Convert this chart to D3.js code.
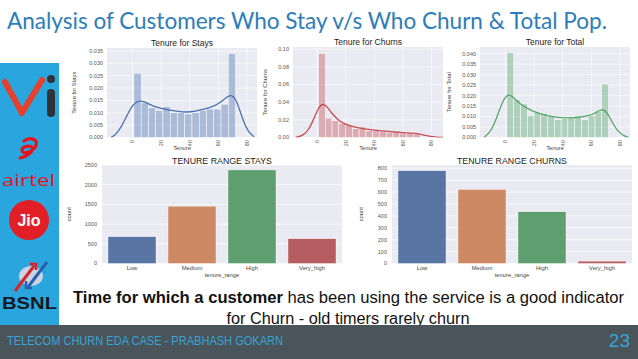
<!DOCTYPE html>
<html>
<head>
<meta charset="utf-8">
<script src="https://cdn.jsdelivr.net/npm/d3@7"></script>
<style>
body { margin: 0; background: #fff; }
svg { display: block; }
</style>
</head>
<body>
<script>
// histogram densities (bins spread over tenure 1..72)
const staysBins = [0.026, 0.014, 0.012, 0.011, 0.0125, 0.010, 0.010, 0.0095, 0.010, 0.011, 0.0115, 0.0115, 0.0135, 0.034];
const churnBins = [0.095, 0.022, 0.019, 0.016, 0.014, 0.010, 0.012, 0.008, 0.008, 0.007, 0.006, 0.006, 0.005, 0.005, 0.004];
const totalBins = [0.0405, 0.018, 0.016, 0.0105, 0.012, 0.0115, 0.010, 0.0085, 0.009, 0.0095, 0.0105, 0.0085, 0.0105, 0.0125, 0.0255];

// kde curves [tenure, density]
const staysKde = [[-15,0],[-12,0.001],[-8,0.004],[-4,0.0088],[0,0.0133],[4,0.015],[8,0.0146],[14,0.0128],[20,0.0117],[26,0.0111],[32,0.0105],[38,0.0102],[44,0.0106],[50,0.0114],[56,0.0124],[62,0.0143],[66,0.0165],[69,0.0173],[72,0.0158],[75,0.011],[78,0.0058],[81,0.0022],[85,0.0003]];
const churnKde = [[-15,0],[-10,0.002],[-6,0.008],[-2,0.022],[1,0.034],[4,0.0388],[7,0.035],[10,0.028],[14,0.021],[18,0.016],[24,0.0125],[30,0.0105],[36,0.009],[42,0.008],[48,0.0072],[54,0.0062],[60,0.0055],[66,0.005],[70,0.0045],[74,0.003],[78,0.0015],[84,0.0003],[88,0]];
const totalKde = [[-15,0],[-10,0.003],[-6,0.0095],[-2,0.0175],[2,0.0212],[6,0.019],[10,0.016],[16,0.0135],[22,0.0118],[28,0.0107],[34,0.0098],[40,0.0094],[46,0.0094],[52,0.0097],[58,0.0104],[62,0.0114],[65,0.0127],[68,0.0136],[71,0.012],[74,0.008],[78,0.0032],[82,0.001],[86,0]];

const histXTicks = [0, 20, 40, 60, 80];

// count plots
const tenureRange = ['Low', 'Medium', 'High', 'Very_high'];
const staysCount = [680, 1455, 2375, 630];
const churnCount = [780, 623, 435, 20];
const staysYTicks = [0, 500, 1000, 1500, 2000, 2500];
const churnYTicks = [0, 100, 200, 300, 400, 500, 600, 700, 800];

const barColors = ['#5875a4', '#cc8963', '#5f9e6e', '#b55d60'];
const bg = '#eaeaf2';
const font = 'Liberation Sans, Arial, sans-serif';

const svg = d3.select('body').append('svg').attr('width', 638).attr('height', 359);
const defs = svg.append('defs');

function hist(o) {
  const x = d3.scaleLinear().domain(o.xd).range([o.x0, o.x1]);
  const y = d3.scaleLinear().domain([0, o.ymax]).range([o.y1, o.y0]);
  const g = svg.append('g');
  defs.append('clipPath').attr('id', o.id).append('rect')
    .attr('x', o.x0).attr('y', o.y0).attr('width', o.x1 - o.x0).attr('height', o.y1 - o.y0);

  g.append('rect').attr('x', o.x0).attr('y', o.y0).attr('width', o.x1 - o.x0).attr('height', o.y1 - o.y0).attr('fill', bg);
  g.selectAll('.gy').data(o.yticks).enter().append('line')
    .attr('x1', o.x0).attr('x2', o.x1).attr('y1', d => y(d)).attr('y2', d => y(d))
    .attr('stroke', '#fff').attr('stroke-width', 0.6);
  g.selectAll('.gx').data(histXTicks).enter().append('line')
    .attr('x1', d => x(d)).attr('x2', d => x(d)).attr('y1', o.y0).attr('y2', o.y1)
    .attr('stroke', '#fff').attr('stroke-width', 0.6);

  const n = o.bins.length, bw = 71 / n;
  g.selectAll('.bar').data(o.bins).enter().append('rect')
    .attr('x', (d, i) => x(1 + i * bw))
    .attr('width', (d, i) => x(1 + (i + 1) * bw) - x(1 + i * bw))
    .attr('y', d => y(d)).attr('height', d => o.y1 - y(d))
    .attr('fill', o.color).attr('fill-opacity', 0.4)
    .attr('stroke', '#fff').attr('stroke-width', 0.5);

  const line = d3.line().x(d => x(d[0])).y(d => y(d[1])).curve(d3.curveBasis);
  g.append('path').datum(o.kde).attr('d', line).attr('fill', 'none')
    .attr('stroke', o.color).attr('stroke-width', 1.3).attr('clip-path', 'url(#' + o.id + ')');

  g.selectAll('.yl').data(o.yticks).enter().append('text')
    .attr('x', o.x0 - 4).attr('y', d => y(d)).attr('dy', '0.35em')
    .attr('text-anchor', 'end').attr('font-size', 5.5).attr('fill', '#555')
    .attr('font-family', font).text(d => d3.format(o.fmt)(d));
  g.selectAll('.xl').data(histXTicks).enter().append('text')
    .attr('transform', d => 'translate(' + x(d) + ',' + (o.y1 + 2.5) + ') rotate(-90)')
    .attr('dy', '0.35em').attr('text-anchor', 'end').attr('font-size', 5.5).attr('fill', '#555')
    .attr('font-family', font).text(d => d);

  g.append('text').attr('x', (o.x0 + o.x1) / 2).attr('y', o.y1 + 12.5).attr('text-anchor', 'middle')
    .attr('font-size', 5.8).attr('fill', '#444').attr('font-family', font).text('Tenure');
  g.append('text').attr('transform', 'translate(' + o.ylx + ',' + ((o.y0 + o.y1) / 2) + ') rotate(-90)')
    .attr('text-anchor', 'middle').attr('font-size', 5.8).attr('fill', '#444').attr('font-family', font).text(o.ylabel);
  g.append('text').attr('x', (o.x0 + o.x1) / 2).attr('y', o.y0 - 2).attr('text-anchor', 'middle')
    .attr('font-size', 8.5).attr('fill', '#222').attr('font-family', font).text(o.title);
}

function countPlot(o) {
  const x = d3.scaleBand().domain(tenureRange).range([o.x0, o.x1]).paddingInner(0.2).paddingOuter(0.1);
  const y = d3.scaleLinear().domain([0, o.ymax]).range([o.y1, o.y0]);
  const g = svg.append('g');
  g.append('rect').attr('x', o.x0).attr('y', o.y0).attr('width', o.x1 - o.x0).attr('height', o.y1 - o.y0).attr('fill', bg);
  g.selectAll('.gy').data(o.yticks).enter().append('line')
    .attr('x1', o.x0).attr('x2', o.x1).attr('y1', d => y(d)).attr('y2', d => y(d))
    .attr('stroke', '#fff').attr('stroke-width', 0.7);
  g.selectAll('.bar').data(o.counts).enter().append('rect')
    .attr('x', (d, i) => x(tenureRange[i])).attr('width', x.bandwidth())
    .attr('y', d => y(d)).attr('height', d => o.y1 - y(d))
    .attr('fill', (d, i) => barColors[i]).attr('stroke', '#fff').attr('stroke-width', 0.4);
  g.selectAll('.yl').data(o.yticks).enter().append('text')
    .attr('x', o.x0 - 5).attr('y', d => y(d)).attr('dy', '0.35em')
    .attr('text-anchor', 'end').attr('font-size', 5.5).attr('fill', '#555').attr('font-family', font).text(d => d);
  g.selectAll('.xl').data(tenureRange).enter().append('text')
    .attr('x', d => x(d) + x.bandwidth() / 2).attr('y', o.y1 + 6.5)
    .attr('text-anchor', 'middle').attr('font-size', 5.8).attr('fill', '#444').attr('font-family', font).text(d => d);
  g.append('text').attr('x', (o.x0 + o.x1) / 2).attr('y', o.y1 + 13.5).attr('text-anchor', 'middle')
    .attr('font-size', 5.8).attr('fill', '#444').attr('font-family', font).text('tenure_range');
  g.append('text').attr('transform', 'translate(' + o.ylx + ',' + ((o.y0 + o.y1) / 2) + ') rotate(-90)')
    .attr('text-anchor', 'middle').attr('font-size', 5.8).attr('fill', '#444').attr('font-family', font).text('count');
  g.append('text').attr('x', (o.x0 + o.x1) / 2).attr('y', o.y0 - 1.5).attr('text-anchor', 'middle')
    .attr('font-size', 8.8).attr('fill', '#222').attr('font-family', font).text(o.title);
}

hist({ id: 'c1', x0: 107, x1: 257, y0: 48, y1: 137.5, xd: [-17.8, 87], ymax: 0.0362, bins: staysBins, kde: staysKde,
  color: '#4c72b0', yticks: d3.range(0, 0.0351, 0.005), fmt: '.3f', ylx: 76, ylabel: 'Tenure for Stays', title: 'Tenure for Stays' });
hist({ id: 'c2', x0: 293, x1: 443, y0: 47, y1: 137.5, xd: [-16.8, 88], ymax: 0.1025, bins: churnBins, kde: churnKde,
  color: '#c44e52', yticks: d3.range(0, 0.101, 0.02), fmt: '.2f', ylx: 267, ylabel: 'Tenure for Churns', title: 'Tenure for Churns' });
hist({ id: 'c3', x0: 480, x1: 630, y0: 47, y1: 137.5, xd: [-17.8, 87], ymax: 0.0432, bins: totalBins, kde: totalKde,
  color: '#55a868', yticks: d3.range(0, 0.0401, 0.005), fmt: '.3f', ylx: 451, ylabel: 'Tenure for Total', title: 'Tenure for Total' });

countPlot({ x0: 102, x1: 342, y0: 165, y1: 263.5, ymax: 2500, counts: staysCount, yticks: staysYTicks, ylx: 71, title: 'TENURE RANGE STAYS' });
countPlot({ x0: 392, x1: 632, y0: 165, y1: 263.5, ymax: 828, counts: churnCount, yticks: churnYTicks, ylx: 363, title: 'TENURE RANGE CHURNS' });

// slide title
svg.append('text').attr('x', 7).attr('y', 29).attr('font-family', 'Lato, sans-serif').attr('font-size', 23.5)
  .attr('fill', '#2c7dbb').attr('textLength', 600).attr('lengthAdjust', 'spacingAndGlyphs')
  .text('Analysis of Customers Who Stay v/s Who Churn & Total Pop.');

// left logo strip
const strip = svg.append('g');
strip.append('rect').attr('x', 0).attr('y', 63).attr('width', 59).attr('height', 262).attr('fill', '#2aa6de');
strip.append('path').attr('d', 'M5,82 L22,113 L42,80').attr('fill', 'none').attr('stroke', '#e5402c')
  .attr('stroke-width', 6).attr('stroke-linejoin', 'round').attr('stroke-linecap', 'round');
strip.append('rect').attr('x', 47).attr('y', 89).attr('width', 8).attr('height', 28).attr('rx', 4).attr('fill', '#2f3237');
strip.append('circle').attr('cx', 51).attr('cy', 79).attr('r', 4).attr('fill', '#2f3237');
strip.append('path').attr('d', 'M24,141 C31,136 40,140 35,147 C31,153 22,155 22,150 C22,146 30,145 33,148 C32,153 26,157 20,158')
  .attr('fill', 'none').attr('stroke', '#e3141d').attr('stroke-width', 3.2).attr('stroke-linecap', 'round');
strip.append('text').attr('x', 2).attr('y', 186).attr('font-family', 'Open Sans, sans-serif').attr('font-size', 17)
  .attr('fill', '#e3141d').attr('textLength', 53).attr('lengthAdjust', 'spacingAndGlyphs').text('airtel');
strip.append('circle').attr('cx', 29).attr('cy', 220).attr('r', 20).attr('fill', '#e21f26');
strip.append('text').attr('x', 29).attr('y', 226).attr('text-anchor', 'middle').attr('font-family', font)
  .attr('font-weight', 'bold').attr('font-size', 16).attr('fill', '#fff').text('Jio');
strip.append('ellipse').attr('cx', 31).attr('cy', 276).attr('rx', 12).attr('ry', 10).attr('fill', '#c9d3e3');
strip.append('path').attr('d', 'M15,291 L34,266').attr('stroke', '#d8232a').attr('stroke-width', 3);
strip.append('path').attr('d', 'M30,264 L36,264 L36,270').attr('fill', 'none').attr('stroke', '#d8232a').attr('stroke-width', 2.5);
strip.append('path').attr('d', 'M47,262 L28,287').attr('stroke', '#2b5fae').attr('stroke-width', 3);
strip.append('path').attr('d', 'M26,281 L26,288 L32,288').attr('fill', 'none').attr('stroke', '#2b5fae').attr('stroke-width', 2.5);
strip.append('text').attr('x', 2).attr('y', 309).attr('font-family', font).attr('font-weight', 'bold')
  .attr('font-size', 17).attr('fill', '#15191e').attr('textLength', 55).attr('lengthAdjust', 'spacingAndGlyphs').text('BSNL');

// note
const note = svg.append('text').attr('x', 73).attr('y', 303).attr('font-family', font).attr('font-size', 16)
  .attr('fill', '#111').attr('textLength', 551).attr('lengthAdjust', 'spacingAndGlyphs');
note.append('tspan').attr('font-weight', 'bold').text('Time for which a customer');
note.append('tspan').text(' has been using the service is a good indicator');
svg.append('text').attr('x', 348).attr('y', 324).attr('text-anchor', 'middle').attr('font-family', font)
  .attr('font-size', 16).attr('fill', '#111').attr('textLength', 243).attr('lengthAdjust', 'spacingAndGlyphs')
  .text('for Churn - old timers rarely churn');

// footer
svg.append('rect').attr('x', 0).attr('y', 325).attr('width', 638).attr('height', 34).attr('fill', '#4a545b');
svg.append('text').attr('x', 7).attr('y', 345).attr('font-family', 'Liberation Sans Narrow, Liberation Sans, sans-serif')
  .attr('font-size', 12).attr('fill', '#3aa3d6').attr('textLength', 276).attr('lengthAdjust', 'spacingAndGlyphs')
  .text('TELECOM CHURN EDA CASE - PRABHASH GOKARN');
svg.append('text').attr('x', 630).attr('y', 347).attr('text-anchor', 'end').attr('font-family', 'Liberation Sans Narrow, Liberation Sans, sans-serif')
  .attr('font-size', 19).attr('fill', '#3aa3d6').text('23');
</script>
</body>
</html>
